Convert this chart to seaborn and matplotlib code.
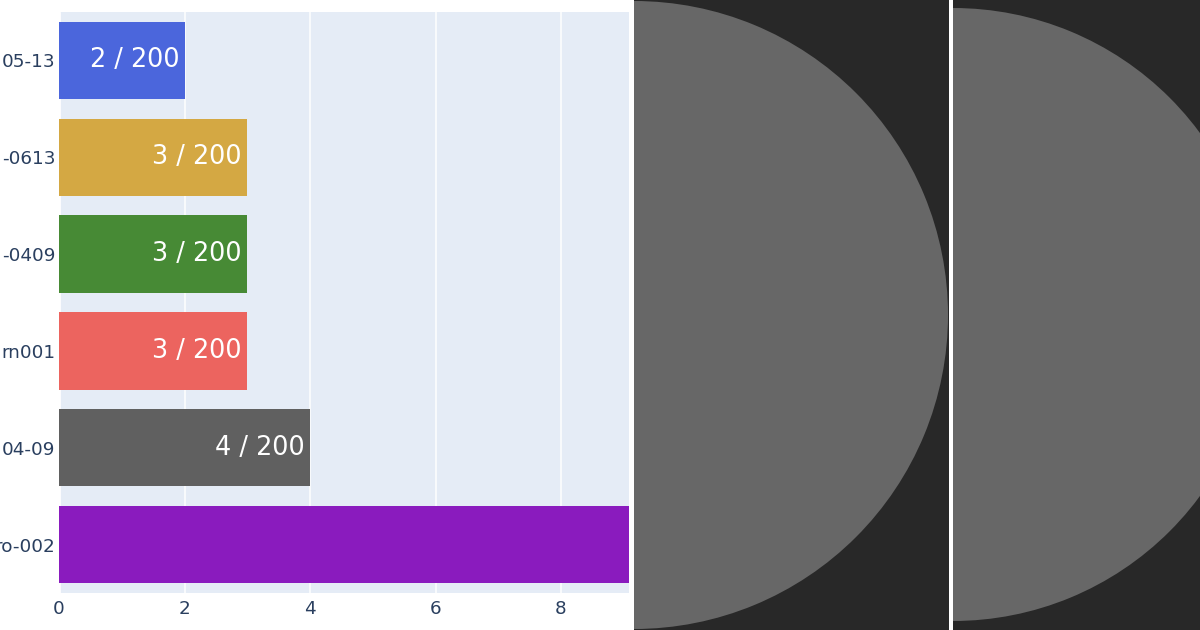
import matplotlib
matplotlib.use("Agg")
import matplotlib.pyplot as plt
import seaborn as sns
import pandas as pd

# ---- data ----
categories = ["05-13", "-0613", "-0409", "rn001", "04-09", "ro-002"]
values = [2, 3, 3, 3, 4, 12]
totals = [200, 200, 200, 200, 200, 200]
bar_colors = ["#4B66DC", "#D4A843", "#478A35", "#EC645F", "#606060", "#8A1BBE"]
x_ticks = [0, 2, 4, 6, 8]
panel_slices = [[1], [1]]

sns.set_theme(style="white")
plt.rcParams["font.family"] = ["DejaVu Sans"]

W, H = 1200, 630
fig = plt.figure(figsize=(W / 100, H / 100), dpi=100)
fig.patch.set_facecolor("white")

# ---- bar chart ----
px_l, px_r, px_t, px_b = 59, 629, 12, 593
ax = fig.add_axes([px_l / W, (H - px_b) / H, (px_r - px_l) / W, (px_b - px_t) / H])
df = pd.DataFrame({"cat": categories, "val": values})
sns.barplot(data=df, x="val", y="cat", hue="cat", palette=bar_colors,
            orient="h", width=0.8, legend=False, ax=ax, saturation=1,
            linewidth=0, zorder=3)
ax.set_facecolor("#E5ECF6")
ax.set_xlim(0, (px_r - px_l) / 62.75)
ax.set_xticks(x_ticks)
ax.set_xticklabels([str(t) for t in x_ticks])
ax.grid(axis="x", color="white", linewidth=1.1, zorder=0)
ax.set_axisbelow(True)
ax.axvline(0, color="white", linewidth=2, zorder=1)
for s in ax.spines.values():
    s.set_visible(False)
ax.tick_params(axis="both", length=0, labelsize=13.2, colors="#2a3f5f")
ax.tick_params(axis="y", pad=2.5)
ax.tick_params(axis="x", pad=5)
ax.set_xlabel("")
ax.set_ylabel("")

for i, (v, t) in enumerate(zip(values, totals)):
    ax.annotate(f"{v} / {t}", xy=(v, i), xytext=(-3.8, 0), textcoords="offset points",
                ha="right", va="center", color="white", fontsize=18.4, zorder=5)

# ---- dark panels with gray discs ----
def panel(x0, x1, r_px, cy_px, slices):
    pa = fig.add_axes([x0 / W, 0, (x1 - x0) / W, 1])
    wedges, _ = pa.pie(slices, colors=["#676767"], radius=1, center=(0, 0),
                       wedgeprops=dict(linewidth=0))
    pa.set_frame_on(True)
    pa.set_facecolor("#282828")
    for w_ in wedges:
        w_.set_clip_on(True)
        w_.set_clip_path(pa.patch)
    pa.set_aspect("auto")
    w = (x1 - x0) / r_px
    pa.set_xlim(0, w)
    pa.set_ylim(-(H - cy_px) / r_px, cy_px / r_px)
    for s in pa.spines.values():
        s.set_visible(False)
    pa.set_xticks([])
    pa.set_yticks([])

panel(634, 949, 314, 315, panel_slices[0])
panel(953, 1200, 306.5, 314.5, panel_slices[1])

fig.savefig("out.png", dpi=100, facecolor="white")
